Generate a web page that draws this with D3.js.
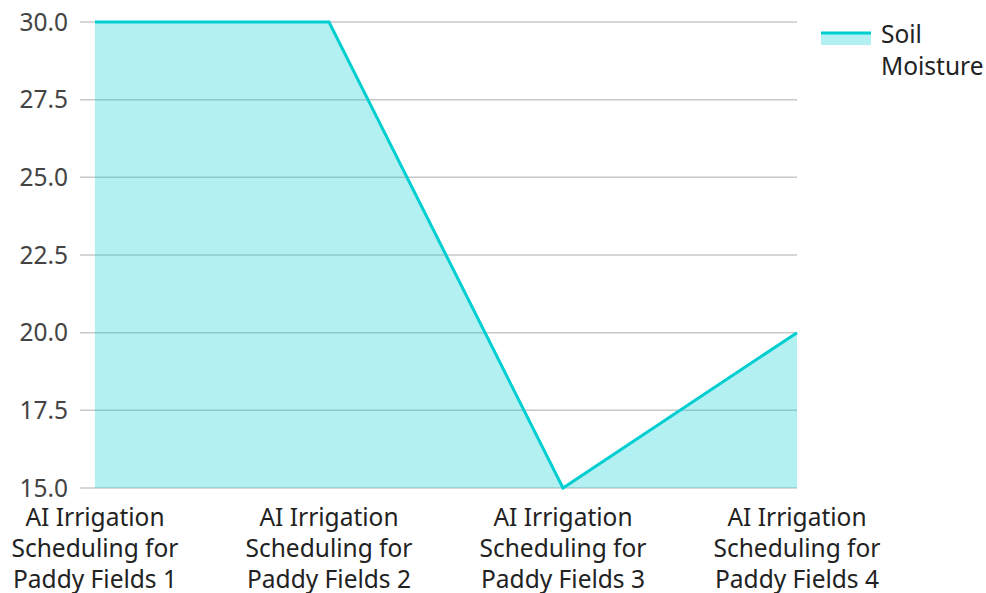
<!DOCTYPE html>
<html>
<head>
<meta charset="utf-8">
<script src="https://cdn.jsdelivr.net/npm/d3@7"></script>
<style>
  html, body { margin: 0; padding: 0; background: #fff; }
  svg { display: block; font-family: "Noto Sans", "Open Sans", sans-serif; }
</style>
</head>
<body>
<svg id="chart" width="986" height="593"></svg>
<script>
// Soil moisture per field
const categories = [
  "AI Irrigation Scheduling for Paddy Fields 1",
  "AI Irrigation Scheduling for Paddy Fields 2",
  "AI Irrigation Scheduling for Paddy Fields 3",
  "AI Irrigation Scheduling for Paddy Fields 4"
];
const categoryLines = [
  ["AI Irrigation", "Scheduling for", "Paddy Fields 1"],
  ["AI Irrigation", "Scheduling for", "Paddy Fields 2"],
  ["AI Irrigation", "Scheduling for", "Paddy Fields 3"],
  ["AI Irrigation", "Scheduling for", "Paddy Fields 4"]
];
const soilMoisture = [30, 30, 15, 20];
const yTicks = [15, 17.5, 20, 22.5, 25, 27.5, 30];
const seriesName = ["Soil", "Moisture"];

const lineColor = "#00ced1";
const svg = d3.select("#chart");
const margin = { left: 95, right: 189, top: 22, bottom: 105 };
const W = 986, H = 593;
const fontSize = 24.5;

const x = d3.scalePoint().domain(categories).range([margin.left, W - margin.right]).padding(0);
const y = d3.scaleLinear().domain([15, 30]).range([H - margin.bottom, margin.top]);

// grid lines
svg.append("g")
  .selectAll("line")
  .data(yTicks)
  .join("line")
  .attr("x1", margin.left - 15)
  .attr("x2", W - margin.right)
  .attr("y1", d => y(d))
  .attr("y2", d => y(d))
  .attr("stroke", "#c8c8c8")
  .attr("stroke-width", 1.5);

// y tick labels
svg.append("g")
  .selectAll("text")
  .data(yTicks)
  .join("text")
  .attr("x", 68)
  .attr("y", d => y(d))
  .attr("dy", "0.35em")
  .attr("text-anchor", "end")
  .attr("font-size", fontSize)
  .attr("fill", "#444")
  .text(d => d.toFixed(1));

const pts = categories.map((c, i) => ({ c, v: soilMoisture[i] }));

// filled area
svg.append("path")
  .datum(pts)
  .attr("d", d3.area().x(d => x(d.c)).y0(y(15)).y1(d => y(d.v)))
  .attr("fill", lineColor)
  .attr("fill-opacity", 0.3);

// line
svg.append("path")
  .datum(pts)
  .attr("d", d3.line().x(d => x(d.c)).y(d => y(d.v)))
  .attr("fill", "none")
  .attr("stroke", lineColor)
  .attr("stroke-width", 3);

// x labels
const xl = svg.append("g")
  .selectAll("text")
  .data(categories)
  .join("text")
  .attr("x", d => x(d))
  .attr("y", H - margin.bottom + 38)
  .attr("text-anchor", "middle")
  .attr("font-size", fontSize)
  .attr("fill", "#222");
xl.selectAll("tspan")
  .data((d, i) => categoryLines[i])
  .join("tspan")
  .attr("x", function() { return d3.select(this.parentNode).attr("x"); })
  .attr("dy", (d, i) => i === 0 ? 0 : 31)
  .text(d => d);

// legend
const lg = svg.append("g").attr("transform", "translate(821,0)");
lg.append("rect").attr("x", 0).attr("y", 33).attr("width", 50).attr("height", 12)
  .attr("fill", lineColor).attr("fill-opacity", 0.3);
lg.append("line").attr("x1", 0).attr("x2", 50).attr("y1", 33).attr("y2", 33)
  .attr("stroke", lineColor).attr("stroke-width", 3);
lg.append("g").selectAll("text")
  .data(seriesName)
  .join("text")
  .attr("x", 60)
  .attr("y", (d, i) => 34 + i * 32)
  .attr("dy", "0.35em")
  .attr("font-size", fontSize)
  .attr("fill", "#222")
  .text(d => d);
</script>
</body>
</html>
